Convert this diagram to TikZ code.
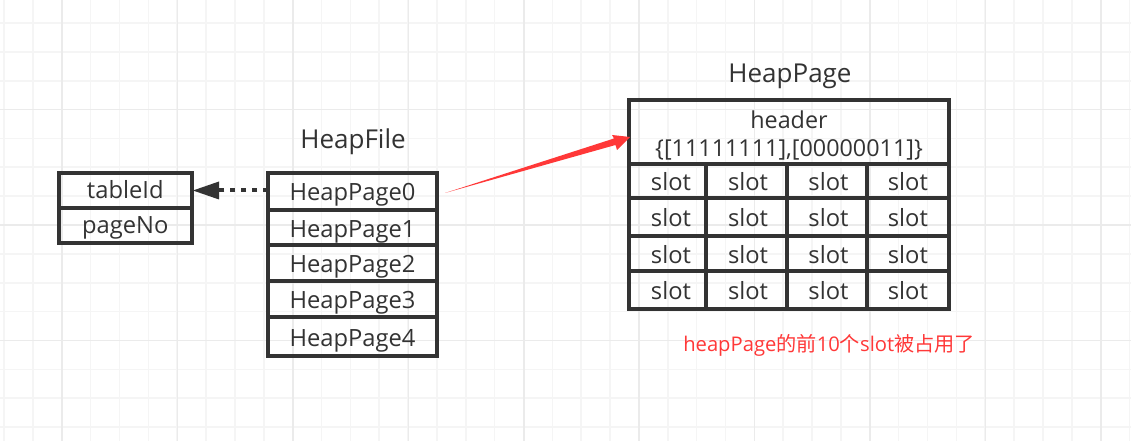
\documentclass[tikz,border=0pt]{standalone}
\usepackage{fontspec}
\setmainfont{Open Sans}
\newfontfamily\cjkfont{Noto Sans CJK SC}
\definecolor{ink}{HTML}{333333}
\definecolor{gridminor}{HTML}{F5F5F5}
\definecolor{gridmajor}{HTML}{EBEBEB}
\definecolor{redmark}{HTML}{FF3838}
\newcommand{\cellbox}[6]{%
  \node[cellstyle, minimum width={(#4-#2)*0.75pt}, minimum height={(#5-#3)*0.75pt}]
    (#1) at ({(#2+#4)/2},{(#3+#5)/2}) {#6};}
\tikzset{
  cellstyle/.style={draw=ink, line width=3pt, rectangle, outer sep=0pt, inner sep=0pt,
    text=ink, font=\fontsize{17.8}{20}\selectfont, text height=17pt, text depth=3pt, align=center},
  titlestyle/.style={text=ink, font=\fontsize{19.5}{22}\selectfont, inner sep=0pt},
}
\begin{document}
\begin{tikzpicture}[x=0.75pt,y=-0.75pt]
\useasboundingbox (0,0) rectangle (1131,441);
\fill[white] (0,0) rectangle (1131,441);
% grid
\foreach \i in {0,...,39} {
  \draw[gridminor, line width=1.2pt] ({4+28.86*\i},0) -- ({4+28.86*\i},441);
}
\foreach \j in {0,...,14} {
  \draw[gridminor, line width=1.2pt] (0,{23+28.86*\j}) -- (1131,{23+28.86*\j});
}
\foreach \i in {0,...,9} {
  \draw[gridmajor, line width=1.2pt] ({62+115.44*\i},0) -- ({62+115.44*\i},441);
}
\foreach \j in {0,...,2} {
  \draw[gridmajor, line width=1.2pt] (0,{109.5+115.44*\j}) -- (1131,{109.5+115.44*\j});
}
% left record
\begin{scope}[cellstyle/.append style={text height=14.5pt}]
\cellbox{tableid}{59}{173}{191.5}{208.5}{tableId}
\cellbox{pageno}{59}{208.5}{191.5}{243.5}{pageNo}
\end{scope}
% heap file
\node[titlestyle] (filetitle) at (353,141.5) {HeapFile};
\cellbox{hp0}{268}{173}{437}{210}{HeapPage0}
\cellbox{hp1}{268}{210}{437}{245.5}{HeapPage1}
\cellbox{hp2}{268}{245.5}{437}{281}{HeapPage2}
\cellbox{hp3}{268}{281}{437}{317.5}{HeapPage3}
\cellbox{hp4}{268}{317.5}{437}{356.5}{HeapPage4}
% heap page
\node[titlestyle] (pagetitle) at (790,76.5) {HeapPage};
\node[cellstyle, minimum width={320*0.75pt}, minimum height={64*0.75pt}, text height=, text depth=, font=\fontsize{17.5}{21}\selectfont]
  (header) at (789,132) {\rule{0pt}{19pt}header\\\{[11111111],[00000011]\}};
\foreach \r/\a/\b in {1/164/198.5, 2/198.5/236.5, 3/236.5/271, 4/271/309} {
  \foreach \c/\l/\m/\sh in {1/629/706/5.25pt, 2/706/787.3/2.1pt, 3/787.3/866.7/2.2pt, 4/866.7/949/0pt} {
    \cellbox{s\r\c}{\l}{\a}{\m}{\b}{\hspace*{\sh}slot}
  }
}
% connectors
\coordinate (redstart) at (445,193);
\coordinate (dotstart) at (268,190.5);
\draw[ink, line width=3pt, dash pattern=on 3.6pt off 4.6pt] (hp0.west |- dotstart) -- (219,190.5);
\fill[ink] (tableid.east |- dotstart) ++(1.5,0) -- (219,181.5) -- (219,199.5) -- cycle;
\path (header.west) ++(1,5) coordinate (redtip);
\fill[redmark] (redstart) -- (614,138.5) -- (612,135) -- (redtip) -- (617,150) -- (615.5,145) -- cycle;
% note
\node[text=redmark, inner sep=0pt, font=\fontsize{15.15}{18}\selectfont, anchor=west] (note) at (683,345) {heapPage{\cjkfont 的前}10{\cjkfont 个}slot{\cjkfont 被占用了}};
\end{tikzpicture}
\end{document}
